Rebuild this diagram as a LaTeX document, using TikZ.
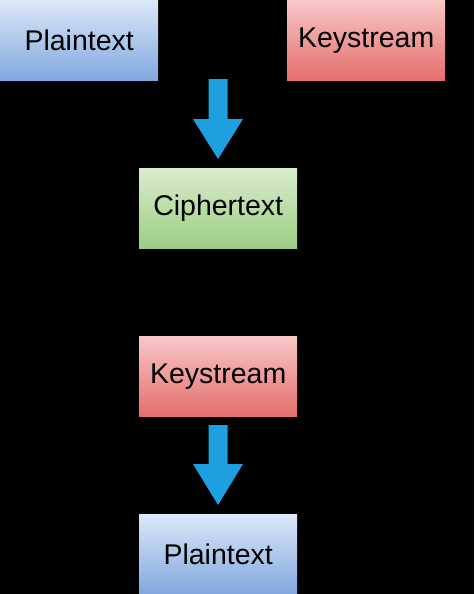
\documentclass[tikz,border=0pt]{standalone}
\usepackage{fontspec}
\setmainfont{Liberation Sans}
\usetikzlibrary{calc}
\definecolor{bluetop}{HTML}{DCE8F8}
\definecolor{bluebot}{HTML}{80A8DE}
\definecolor{redtop}{HTML}{F7C8C7}
\definecolor{redbot}{HTML}{E46E6C}
\definecolor{greentop}{HTML}{DAECCE}
\definecolor{greenbot}{HTML}{9BCE82}
\definecolor{arrowblue}{HTML}{1E9FE0}
\tikzset{
  box/.style={minimum width=158pt, minimum height=80pt, inner sep=0pt, anchor=north west,
    font=\fontsize{28.5}{30}\selectfont, shading angle=0},
  bluebox/.style={box, top color=bluetop, bottom color=bluebot},
  redbox/.style={box, top color=redtop, bottom color=redbot},
  greenbox/.style={box, top color=greentop, bottom color=greenbot},
  fatarrow/.style={fill=arrowblue, draw=none}
}
\begin{document}
\begin{tikzpicture}[x=1pt,y=-1pt]
\fill[black] (0,0) rectangle (474,594);
\useasboundingbox (0,0) rectangle (474,594);
\node[bluebox] (p1) at (0,0) {Plaintext};
\node[redbox] (k1) at (287,0) {Keystream};
\node[greenbox] (c) at (139,168) {Ciphertext};
\node[redbox] (k2) at (139,336) {Keystream};
\node[bluebox] (p2) at (139,514) {Plaintext};
% arrow 1
\coordinate (a1) at (218,79);
\fill[fatarrow] ($(a1)+(-9.5,0)$) -- ($(a1)+(9.5,0)$) -- ($(a1)+(9.5,40)$) -- ($(a1)+(25,40)$)
  -- ($(a1)+(0,80)$) -- ($(a1)+(-25,40)$) -- ($(a1)+(-9.5,40)$) -- cycle;
% arrow 2
\coordinate (a2) at (218,425);
\fill[fatarrow] ($(a2)+(-9.5,0)$) -- ($(a2)+(9.5,0)$) -- ($(a2)+(9.5,39)$) -- ($(a2)+(25,39)$)
  -- ($(a2)+(0,80)$) -- ($(a2)+(-25,39)$) -- ($(a2)+(-9.5,39)$) -- cycle;
\end{tikzpicture}
\end{document}
